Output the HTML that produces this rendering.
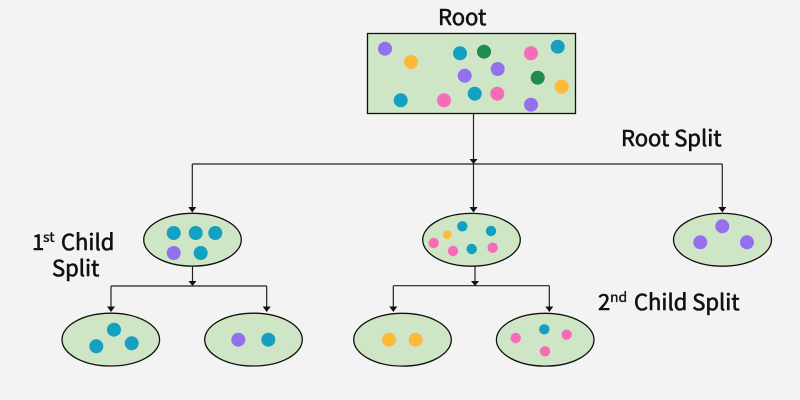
<!DOCTYPE html>
<html><head><meta charset="utf-8"><style>
html,body{margin:0;padding:0;background:#f3f3f3}
svg{display:block}
text{font-family:"Noto Sans CJK SC","Liberation Sans",sans-serif;font-size:22px;fill:#111;stroke:#111;stroke-width:.6}
.e{fill:#cfe6c6;stroke:#111;stroke-width:1.3}
.l{stroke:#222;stroke-width:1.2;fill:none}
.a{fill:#111}
.t{fill:#14a0c0}.p{fill:#9370ee}.y{fill:#fdb93a}.g{fill:#1f8b4c}.k{fill:#f56cb8}
</style></head><body>
<svg width="800" height="400" viewBox="0 0 800 400" xmlns="http://www.w3.org/2000/svg">
<rect x="0" y="0" width="800" height="400" fill="#f3f3f3"/>
<path class="l" d="M473.5 114V160M192.3 164H722.3M192.3 164V208M473.5 164V208M722.3 164V208"/>
<path class="l" d="M192.5 266V282M111 286H266.7M111 286V308M266.7 286V308"/>
<path class="l" d="M475 266V282M393.3 285.7H549.3M393.3 285.7V308M549.3 285.7V308"/>
<path class="a" d="M469.5 159h8l-4 5zM188.3 207h8l-4 5.5zM469.5 207h8l-4 5.5zM718.3 207h8l-4 5.5zM188.5 281h8l-4 5zM107 306.5h8l-4 5.5zM262.7 306.5h8l-4 5.5zM471 281h8l-4 5zM389.3 306.5h8l-4 5.5zM545.3 306.5h8l-4 5.5z"/>
<rect x="367.5" y="33.5" width="208" height="80" fill="#cfe6c6" stroke="#111" stroke-width="1.3"/>
<ellipse class="e" cx="192.5" cy="239.7" rx="48.8" ry="26.4"/>
<ellipse class="e" cx="471.5" cy="239.8" rx="48.8" ry="26.4"/>
<ellipse class="e" cx="722.5" cy="239.8" rx="49" ry="26.4"/>
<ellipse class="e" cx="110.8" cy="339.6" rx="48.8" ry="26.4"/>
<ellipse class="e" cx="253.5" cy="339.6" rx="48.8" ry="26.4"/>
<ellipse class="e" cx="402.5" cy="339.7" rx="48.8" ry="26.4"/>
<ellipse class="e" cx="545.2" cy="339.7" rx="48.8" ry="26.4"/>
<g>
<circle class="p" cx="385" cy="48.7" r="7"/><circle class="y" cx="411" cy="62" r="7"/><circle class="t" cx="460" cy="53.3" r="7"/><circle class="g" cx="484" cy="51.7" r="7"/><circle class="k" cx="531" cy="53.3" r="7"/><circle class="t" cx="557.7" cy="46.7" r="7"/><circle class="p" cx="497.7" cy="69" r="7"/><circle class="p" cx="464.7" cy="75.7" r="7"/><circle class="g" cx="537.7" cy="77.7" r="7"/><circle class="y" cx="561.7" cy="86.7" r="7"/><circle class="t" cx="474.7" cy="93.7" r="7"/><circle class="k" cx="497.3" cy="93.7" r="7"/><circle class="t" cx="400.7" cy="100.3" r="7"/><circle class="k" cx="444" cy="100.3" r="7"/><circle class="p" cx="531" cy="104.7" r="7"/>
<circle class="t" cx="173.7" cy="233" r="7"/><circle class="t" cx="195.7" cy="233" r="7"/><circle class="t" cx="215.3" cy="233" r="7"/><circle class="p" cx="173.7" cy="253" r="7"/><circle class="t" cx="200.7" cy="253" r="7"/>
<circle class="t" cx="462.3" cy="226.3" r="5.2"/><circle class="y" cx="447.3" cy="234.7" r="4.3"/><circle class="t" cx="491" cy="231" r="5.2"/><circle class="k" cx="433.7" cy="243" r="5.2"/><circle class="k" cx="453" cy="251" r="5.2"/><circle class="t" cx="471.7" cy="249" r="5.2"/><circle class="k" cx="492.7" cy="247.7" r="5.2"/>
<circle class="p" cx="722.3" cy="226.3" r="7"/><circle class="p" cx="700.3" cy="242.3" r="7"/><circle class="p" cx="747" cy="242.3" r="7"/>
<circle class="t" cx="114" cy="329.7" r="7"/><circle class="t" cx="96.3" cy="346.3" r="7"/><circle class="t" cx="131.7" cy="343.3" r="7"/>
<circle class="p" cx="238.3" cy="339.7" r="7"/><circle class="t" cx="268.3" cy="339.7" r="7"/>
<circle class="y" cx="389" cy="339.7" r="7"/><circle class="y" cx="415.7" cy="339.7" r="7"/>
<circle class="t" cx="544.3" cy="329.3" r="5.2"/><circle class="k" cx="515.7" cy="338" r="5.2"/><circle class="k" cx="566.7" cy="334.7" r="5.2"/><circle class="k" cx="545" cy="351.3" r="5.2"/>
</g>
<text x="438" y="25">Root</text>
<text x="621" y="146">Root Split</text>
<text x="32" y="250">1</text><text x="43" y="242" style="font-size:14px;stroke-width:.35">st</text><text x="61" y="250">Child</text>
<text x="52" y="276">Split</text>
<text x="598" y="310">2</text><text x="610" y="302" style="font-size:14px;stroke-width:.35">nd</text><text x="634" y="310">Child Split</text>
</svg>
</body></html>
